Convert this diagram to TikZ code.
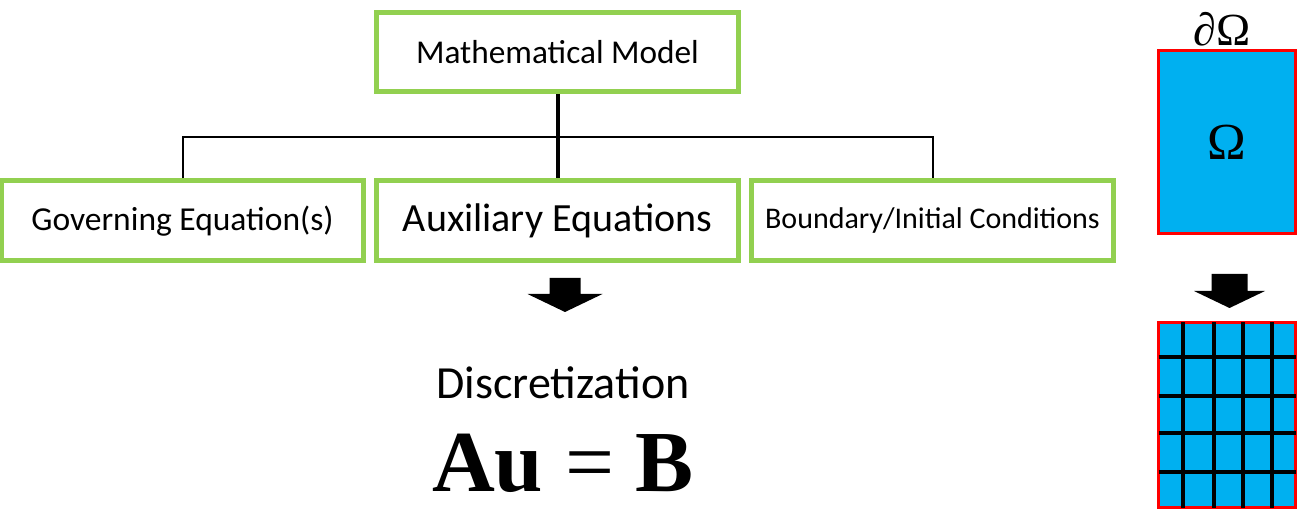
\documentclass[tikz,border=0pt]{standalone}
\usepackage{fontspec}
\setmainfont{Carlito}
\newfontfamily\timesfont{Liberation Serif}
\usetikzlibrary{positioning}
\definecolor{boxgreen}{RGB}{146,208,80}
\definecolor{domblue}{RGB}{0,176,240}

\begin{document}
\begin{tikzpicture}[x=1pt,y=-1pt,
	box/.style={draw=boxgreen,line width=5pt,minimum width=362pt,minimum height=80pt,inner sep=0pt},
	region/.style={draw=red,fill=domblue,line width=3pt,minimum width=137pt,inner sep=0pt},
	link/.style={draw=black,line width=2pt},
	gridline/.style={draw=black,line width=4pt}]
\useasboundingbox (0,0) rectangle (1300,518);
% model tree
\node[box,minimum height=79pt,font=\fontsize{33.3}{40}\selectfont] (model) at (557.5,52) {Mathematical Model};
\node[box,font=\fontsize{33.5}{40}\selectfont] (gov) at (182.5,221) {Governing Equation(s)};
\node[box,font=\fontsize{40}{48}\selectfont] (aux) at (557.5,221) {Auxiliary Equations};
\node[box,font=\fontsize{30}{36}\selectfont] (bnd) at (932.5,221) {Boundary/Initial Conditions};
\coordinate (split) at (557.5,137);
\draw[link] (gov.north) |- (split) -| (bnd.north);
\draw[line width=4pt] (model.south) -- (aux.north);
% discretization
\node[font=\fontsize{46}{54}\selectfont] (disc) at (563,383) {Discretization};
\node[font=\timesfont\fontsize{87}{100}\selectfont] (eqn) at (563,463) {\textbf{Au} = \textbf{B}};
% domain and mesh
\node[region,minimum height=183pt,font=\timesfont\fontsize{52}{60}\selectfont] (dom) at (1227,142.5) {Ω};
\node[font=\timesfont\fontsize{46}{54}\selectfont] (bdry) at (1222,29) {∂Ω};
\node[region,minimum height=185pt] (mesh) at (1227,415) {};
\foreach \x in {1183,1214,1243,1272}
	\draw[gridline,shorten <=1.5pt,shorten >=1.5pt] (\x,0 |- mesh.north) -- (\x,0 |- mesh.south);
\foreach \y in {357,396,433,472}
	\draw[gridline,shorten <=1.5pt,shorten >=1.5pt] (mesh.west |- 0,\y) -- (mesh.east |- 0,\y);
% block arrows
\foreach \cx/\top/\neck/\tip/\sw/\hw in {565/278/294/312/15.5/37.5,1229.5/274/291/308/18/35.5}
	\fill ({\cx-\sw},\top) -- ({\cx+\sw},\top) -- ({\cx+\sw},\neck) -- ({\cx+\hw},\neck)
		-- (\cx,\tip) -- ({\cx-\hw},\neck) -- ({\cx-\sw},\neck) -- cycle;
\end{tikzpicture}
\end{document}
